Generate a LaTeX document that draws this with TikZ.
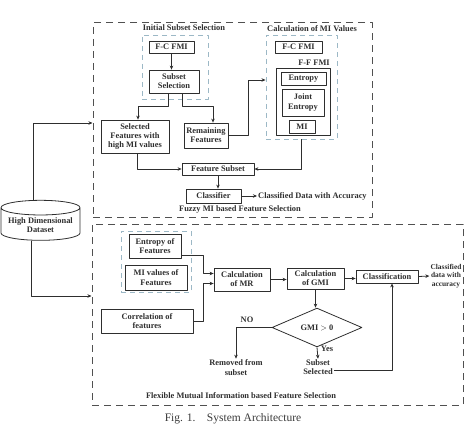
\documentclass[tikz,border=0pt]{standalone}
\usepackage{fontspec}
\setmainfont{Liberation Serif}
\usetikzlibrary{arrows.meta,shapes.geometric}
\definecolor{linec}{HTML}{2E2E2E}
\definecolor{outc}{HTML}{505050}
\definecolor{grpc}{HTML}{9CB8C6}
\definecolor{capc}{HTML}{3A3A3A}

\begin{document}
\begin{tikzpicture}[x=1pt, y=-1pt, line join=round,
    blk/.style={draw=linec, line width=0.8pt, text=linec, font=\fontsize{8.4}{9.2}\selectfont\bfseries, align=center, inner sep=1pt},
    lbl/.style={text=linec, font=\fontsize{8.4}{9.2}\selectfont\bfseries, align=center, inner sep=1pt},
    grp/.style={draw=grpc, line width=0.9pt, dash pattern=on 5pt off 4pt, inner sep=0pt},
    outer/.style={draw=outc, line width=1pt, dash pattern=on 7pt off 5pt, inner sep=0pt},
    arr/.style={draw=linec, line width=0.8pt, -{Stealth[length=4pt,width=3.5pt]}}]
    \useasboundingbox (0,0) rectangle (474,428);

    % the two stages
    \node (fuzzy) [outer, minimum width=279, minimum height=194] at (232.5,120) {};
    \node (flex) [outer, minimum width=371, minimum height=181] at (277.5,314.5) {};
    \node (isel) [grp, minimum width=66, minimum height=64] at (175,67) {};
    \node (cmi) [grp, minimum width=71, minimum height=104] at (301.5,87) {};
    \node (mrgrp) [grp, minimum width=70, minimum height=61] at (156,261.5) {};

    \node (fuzzytitle) [lbl] at (240,209) {Fuzzy MI based Feature Selection};
    \node (isetitle) [lbl] at (184,28) {Initial Subset Selection};
    \node (cmititle) [lbl] at (312,29) {Calculation of MI Values};
    \node (flextitle) [lbl] at (241,396) {Flexible Mutual Information based Feature Selection};

    % fuzzy MI stage
    \node (fcfmiA) [blk, minimum width=45, minimum height=12] at (171.5,47) {F-C FMI};
    \node (subsel) [blk, minimum width=50, minimum height=23] at (174,81.5) {Subset\\Selection};
    \node (selfeat) [blk, minimum width=68, minimum height=33] at (135,136.5) {Selected\\Features with\\high MI values};
    \node (remfeat) [blk, minimum width=44, minimum height=25] at (206,135.5) {Remaining\\Features};
    \node (fcfmiB) [blk, minimum width=47, minimum height=12] at (298.5,47) {F-C FMI};
    \node (fflabel) [lbl] at (314,63) {F-F FMI};
    \node (ffbox) [blk, minimum width=54, minimum height=67] at (303,101.5) {};
    \node (entropy) [blk, minimum width=45, minimum height=13] at (303.5,78.5) {Entropy};
    \node (jointent) [blk, minimum width=42, minimum height=27] at (303,102.5) {Joint\\Entropy};
    \node (mi) [blk, minimum width=26, minimum height=13] at (302,126.5) {MI};
    \node (featsub) [blk, minimum width=72, minimum height=12] at (218,169) {Feature Subset};
    \node (classifier) [blk, minimum width=55, minimum height=14] at (213.5,196) {Classifier};
    \node (classdata) [lbl, anchor=west] at (257,196) {Classified Data with Accuracy};

    \draw[arr] (fcfmiA) -- (fcfmiA |- subsel.north);
    \draw[arr] ([xshift=-6pt]subsel.south) -- ++(0,12.5) -| ([xshift=3pt]selfeat.north);
    \draw[arr] ([xshift=8pt]subsel.south) -- ++(0,12.5) -| ([xshift=7pt]remfeat.north);
    \draw[arr] (remfeat.east) -- ++(20,0) |- ([yshift=7pt]cmi.west);
    \draw[arr] (cmi.south) |- (featsub.east);
    \draw[arr] ([xshift=2pt]selfeat.south) |- (featsub.west);
    \draw[arr] (featsub.south) -- (featsub.south |- classifier.north);
    \draw[arr] (classifier.east) -- (classdata.west);

    % dataset
    \node (data) [cylinder, shape border rotate=90, aspect=0.22, draw=linec, line width=0.8pt, text=linec,
        font=\fontsize{8.4}{9.2}\selectfont\bfseries, align=center, inner sep=1pt,
        minimum width=79, minimum height=40] at (40.5,225) {High Dimensional\\Dataset};
    \draw[arr] ([xshift=-7pt]data.north) |- ([yshift=-3pt]fuzzy.west);
    \draw[arr] ([xshift=-9pt]data.south) |- ([yshift=18.5pt]flex.west);

    % flexible MI stage
    \node (entfeat) [blk, minimum width=52, minimum height=24] at (155,246) {Entropy of\\Features};
    \node (mival) [blk, minimum width=62, minimum height=25] at (156,277.5) {MI values of\\Features};
    \node (corr) [blk, minimum width=92, minimum height=24] at (147,321) {Correlation of\\features};
    \node (mr) [blk, minimum width=56, minimum height=23] at (242,279.5) {Calculation\\of MR};
    \node (gmi) [blk, minimum width=57, minimum height=21] at (315.5,278.5) {Calculation\\of GMI};
    \node (clsf) [blk, minimum width=62, minimum height=13] at (387,276.5) {Classification};
    \node (clsdata) [lbl, font=\fontsize{7.4}{8.8}\selectfont\bfseries] at (446,276) {Classified\\data with\\accuracy};
    \node (dec) [blk, diamond, inner sep=0pt, minimum width=90, minimum height=31] at (317,327.5) {GMI $>$ 0};
    \node (removed) [lbl] at (236,367.5) {Removed from\\subset};
    \node (selected) [lbl] at (318,367.5) {Subset\\Selected};
    \node (nolbl) [lbl] at (247,320) {NO};
    \node (yeslbl) [lbl] at (327,349) {Yes};

    \draw[arr] ([yshift=-9pt]entfeat.east) -- ++(22,0) |- ([yshift=6pt]mr.west);
    \draw[arr] (corr.east) -- ++(10,0) |- ([yshift=-4pt]mr.west);
    \draw[arr] (mr.east) -- (mr.east -| gmi.west);
    \draw[arr] (gmi.east) -- (gmi.east -| clsf.west);
    \draw[arr] (clsf.east) -- (clsdata.west);
    \draw[arr] (gmi.south) -- (gmi.south |- dec.north);
    \draw[arr] (dec.west) -| (removed.north);
    \draw[arr] (dec.south) -- (selected.north);
    \draw[arr] ([yshift=-3pt]selected.east) -| ([xshift=5pt]clsf.south);

    \node (caption) [text=capc, font=\fontsize{11.5}{13}\selectfont] at (233,419) {Fig. 1.\quad System Architecture};
\end{tikzpicture}
\end{document}
